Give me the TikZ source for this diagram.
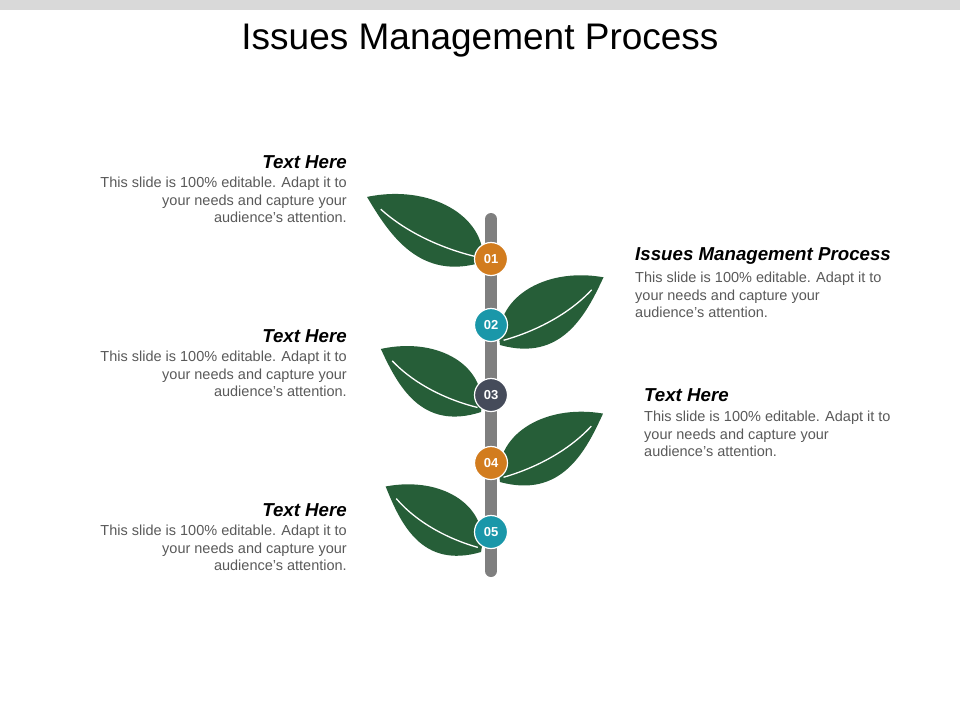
\documentclass[tikz,border=0pt]{standalone}
\usepackage{fontspec}
\setmainfont{Liberation Sans}
\definecolor{leafg}{HTML}{265E38}
\definecolor{orng}{HTML}{D27C1E}
\definecolor{teal}{HTML}{1A97A9}
\definecolor{dark}{HTML}{454B5A}
\definecolor{stemg}{HTML}{7F7F7F}
\definecolor{bodyg}{HTML}{595959}
\tikzset{
  num/.style={circle,draw=white,line width=1.2pt,minimum size=33pt,inner sep=0pt,text=white,font=\fontsize{13}{13}\selectfont\bfseries},
  head/.style={font=\fontsize{18.7}{20}\selectfont\bfseries\itshape,inner sep=0pt},
  body/.style={font=\fontsize{14.5}{17.5}\selectfont,text=bodyg,inner sep=0pt},
  leaf/.pic={
    \fill[leafg] (0,0) .. controls (20,42) and (85,42) .. (133,0) .. controls (95,-22) and (45,-48) .. (0,0) -- cycle;
    \draw[white,line width=1.3pt] (6,2) .. controls (40,-8) and (80,-12) .. (115,-4);
  }
}
\begin{document}
\begin{tikzpicture}[x=1pt,y=-1pt]
\useasboundingbox (0,0) rectangle (960,720);
\fill[gray!30] (0,0) rectangle (960,10);
\node[font=\fontsize{37}{37}\selectfont] (title) at (480,41) {Issues Management Process};
% leaves
\pic[shift={(483,262)},rotate=150.7] {leaf};
\pic[shift={(500,345)},rotate=33.2,xscale=0.93,yscale=-1] {leaf};
\pic[shift={(481,412)},rotate=147.8,xscale=0.89] {leaf};
\pic[shift={(500,482)},rotate=33.6,xscale=0.93,yscale=-1] {leaf};
\pic[shift={(481,552)},rotate=145.5,xscale=0.87] {leaf};
% stem
\draw[stemg,line width=12pt,line cap=round] (491,219) -- (491,571);
\node[num,fill=orng] (n1) at (491,259) {01};
\node[num,fill=teal] (n2) at (491,325) {02};
\node[num,fill=dark] (n3) at (491,395) {03};
\node[num,fill=orng] (n4) at (491,463) {04};
\node[num,fill=teal] (n5) at (491,532) {05};
% texts
\node[head,anchor=east] (h1) at (347,162) {Text Here};
\node[body,anchor=north east,align=right] (b1) at (347,177) {This slide is 100\% editable. Adapt it to\\your needs and capture your\\audience's attention.};
\node[head,anchor=east] (h3) at (347,336) {Text Here};
\node[body,anchor=north east,align=right] (b3) at (347,351) {This slide is 100\% editable. Adapt it to\\your needs and capture your\\audience's attention.};
\node[head,anchor=east] (h5) at (347,510) {Text Here};
\node[body,anchor=north east,align=right] (b5) at (347,525) {This slide is 100\% editable. Adapt it to\\your needs and capture your\\audience's attention.};
\node[head,anchor=west] (h2) at (635,256) {Issues Management Process};
\node[body,anchor=north west,align=left] (b2) at (635,272) {This slide is 100\% editable. Adapt it to\\your needs and capture your\\audience's attention.};
\node[head,anchor=west] (h4) at (644,395) {Text Here};
\node[body,anchor=north west,align=left] (b4) at (644,411) {This slide is 100\% editable. Adapt it to\\your needs and capture your\\audience's attention.};
\end{tikzpicture}
\end{document}
